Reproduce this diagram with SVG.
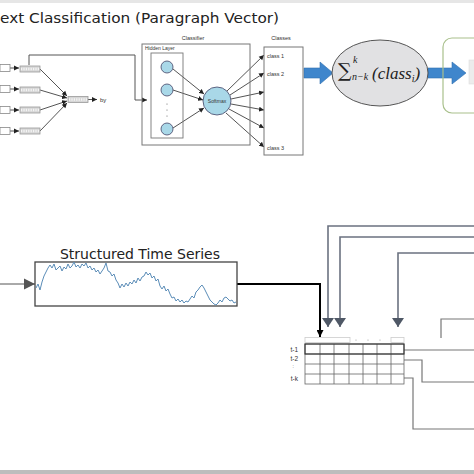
<svg xmlns="http://www.w3.org/2000/svg" width="474" height="474" viewBox="0 0 474 474">
<style>
.t{font-family:"DejaVu Sans","Liberation Sans",sans-serif;fill:#222}
.s{font-family:"Liberation Sans",sans-serif;fill:#333}
.ln{fill:none;stroke:#555;stroke-width:1}
.gl{fill:none;stroke:#6b7280;stroke-width:1.6}
.tl{fill:none;stroke:#777;stroke-width:1.2}
.vec{fill:#d6d6d6;stroke:#999;stroke-width:0.8}
.cell{fill:none;stroke:#f4f4f4;stroke-width:2.5;stroke-dasharray:1.2 1.2}
.in{fill:#fff;stroke:#888;stroke-width:0.8}
.hc{fill:#a9d8e8;stroke:#446;stroke-width:0.8}
.grid{fill:none;stroke:#666;stroke-width:0.8}
</style>
<defs>
<marker id="ah" markerWidth="6" markerHeight="6" refX="5" refY="3" orient="auto" markerUnits="userSpaceOnUse"><path d="M0,0.5 L5,3 L0,5.5z" fill="#222"/></marker>
<marker id="gh" markerWidth="12" markerHeight="10" refX="6" refY="9" orient="0" markerUnits="userSpaceOnUse"><path d="M0,0 L12,0 L6,9z" fill="#4f5866"/></marker>
<marker id="bh" markerWidth="8" markerHeight="8" refX="3.5" refY="7" orient="0" markerUnits="userSpaceOnUse"><path d="M0,0 L7,0 L3.5,7z" fill="#000"/></marker>
<marker id="lh" markerWidth="12" markerHeight="12" refX="11" refY="6" orient="0" markerUnits="userSpaceOnUse"><path d="M0,0.5 L11,6 L0,11.5z" fill="#555"/></marker>
</defs>
<rect width="474" height="474" fill="#fff"/>
<rect x="0" y="0" width="474" height="3" fill="#e6e6e6"/>
<rect x="0" y="470" width="474" height="4" fill="#bdbdbd"/>

<text class="t" x="0" y="23" font-size="14" textLength="279" lengthAdjust="spacingAndGlyphs">ext Classification (Paragraph Vector)</text>

<g id="connectors">
  <path class="ln" d="M10,68 H19" marker-end="url(#ah)"/>
  <path class="ln" d="M10,89 H19" marker-end="url(#ah)"/>
  <path class="ln" d="M10,110 H19" marker-end="url(#ah)"/>
  <path class="ln" d="M10,131 H19" marker-end="url(#ah)"/>
  <path class="ln" d="M40,69 L67,96" marker-end="url(#ah)"/>
  <path class="ln" d="M40,90 L67,98" marker-end="url(#ah)"/>
  <path class="ln" d="M40,110 L67,101" marker-end="url(#ah)"/>
  <path class="ln" d="M40,131 L67,103" marker-end="url(#ah)"/>
  <path class="ln" d="M88,99.5 H97" marker-end="url(#ah)"/>
  <path class="ln" d="M29,65 V55 H135 V100 H147" marker-end="url(#ah)"/>
  <path class="ln" d="M173,69 L204,94" marker-end="url(#ah)"/>
  <path class="ln" d="M173,90 L203,100" marker-end="url(#ah)"/>
  <path class="ln" d="M173,128 L204,108" marker-end="url(#ah)"/>
  <path class="ln" d="M227,91 L264,55" marker-end="url(#ah)"/>
  <path class="ln" d="M230,95 L264,73" marker-end="url(#ah)"/>
  <path class="ln" d="M231,99 L264,92" marker-end="url(#ah)"/>
  <path class="ln" d="M231,104 L264,110" marker-end="url(#ah)"/>
  <path class="ln" d="M229,109 L264,128" marker-end="url(#ah)"/>
  <path class="ln" d="M226,113 L264,147" marker-end="url(#ah)"/>
  <path d="M304,68 H320 V62 L333,73 L320,84 V78 H304z" fill="#3f86cc" stroke="#2f6fae" stroke-width="0.6"/>
  <path d="M428,68 H452 V62 L466,73 L452,84 V78 H428z" fill="#3f86cc" stroke="#2f6fae" stroke-width="0.6"/>
  <path d="M0,284 H35" fill="none" stroke="#555" stroke-width="1" marker-end="url(#lh)"/>
  <path d="M237,284 H320 V337" fill="none" stroke="#000" stroke-width="2" marker-end="url(#bh)"/>
  <path class="gl" d="M474,226 H328 V327" marker-end="url(#gh)"/>
  <path class="gl" d="M474,237 H340 V327" marker-end="url(#gh)"/>
  <path class="gl" d="M474,253 H398 V327" marker-end="url(#gh)"/>
  <path class="tl" d="M474,319 H441 V338"/>
  <path class="tl" d="M404,350 H474"/>
  <path class="tl" d="M404,360 H422 V382 H474"/>
  <path class="tl" d="M404,378 H413 V429 H474"/>
</g>

<g id="inputs">
  <rect class="in" x="0" y="64.5" width="10" height="7"/>
  <rect class="in" x="0" y="85.5" width="10" height="7"/>
  <rect class="in" x="0" y="106.5" width="10" height="7"/>
  <rect class="in" x="0" y="127.5" width="10" height="7"/>
  <rect class="vec" x="20" y="66" width="20" height="6"/><line class="cell" x1="21" y1="69" x2="39" y2="69"/>
  <rect class="vec" x="20" y="87" width="20" height="6"/><line class="cell" x1="21" y1="90" x2="39" y2="90"/>
  <rect class="vec" x="20" y="107" width="20" height="6"/><line class="cell" x1="21" y1="110" x2="39" y2="110"/>
  <rect class="vec" x="20" y="128" width="20" height="6"/><line class="cell" x1="21" y1="131" x2="39" y2="131"/>
</g>
<g id="paragraph-vector">
  <rect class="vec" x="68" y="96.5" width="20" height="6"/><line class="cell" x1="69" y1="99.5" x2="87" y2="99.5"/>
  <text class="s" x="100" y="102" font-size="6">by</text>
</g>

<g id="classifier">
  <rect x="142" y="44" width="108" height="101" fill="none" stroke="#777" stroke-width="1"/>
  <text class="s" x="193" y="40" font-size="5.5" text-anchor="middle">Classifier</text>
  <text class="s" x="145" y="50" font-size="5">Hidden Layer</text>
  <rect x="151" y="53" width="32" height="85" fill="none" stroke="#777" stroke-width="0.9"/>
  <circle class="hc" cx="167" cy="67" r="6"/>
  <circle class="hc" cx="167" cy="90" r="6"/>
  <circle class="hc" cx="167" cy="129" r="6"/>
  <circle cx="167" cy="104" r="0.6" fill="#666"/>
  <circle cx="167" cy="110" r="0.6" fill="#666"/>
  <circle cx="167" cy="116" r="0.6" fill="#666"/>
  <circle class="hc" cx="217" cy="101" r="14"/>
  <text class="s" x="217" y="103" font-size="5" text-anchor="middle">Softmax</text>
</g>

<g id="classes">
  <rect x="264" y="47" width="39" height="108" fill="none" stroke="#777" stroke-width="1"/>
  <text class="s" x="281" y="40" font-size="5.5" text-anchor="middle">Classes</text>
  <text class="s" x="267" y="58" font-size="5.5">class 1</text>
  <text class="s" x="267" y="76" font-size="5.5">class 2</text>
  <text class="s" x="267" y="150" font-size="5.5">class 3</text>
</g>

<g id="sum">
  <ellipse cx="380" cy="73" rx="48" ry="33" fill="#e1e1e3" stroke="#555" stroke-width="1"/>
  <text x="338" y="77" font-family="'DejaVu Serif','Liberation Serif',serif" font-size="19" fill="#222">∑</text>
  <text x="353" y="63" font-family="'Liberation Serif',serif" font-style="italic" font-size="10" fill="#222">k</text>
  <text x="352" y="80" font-family="'Liberation Serif',serif" font-style="italic" font-size="10" fill="#222">n−k</text>
  <text x="372" y="79" font-family="'Liberation Serif',serif" font-style="italic" font-size="17" fill="#222">(class<tspan font-size="10" dy="3">i</tspan><tspan dy="-3">)</tspan></text>
</g>

<g id="output">
  <rect x="443" y="38" width="50" height="75" rx="9" fill="none" stroke="#a9c08c" stroke-width="1.2"/>
  <rect x="469" y="60" width="8" height="24" fill="#ececec" stroke="#ddd" stroke-width="0.6"/>
</g>

<g id="time-series">
  <text class="t" x="60" y="259" font-size="14" textLength="160" lengthAdjust="spacingAndGlyphs">Structured Time Series</text>
  <rect x="35" y="262" width="202" height="44" fill="#fff" stroke="#444" stroke-width="1.3"/>
  <polyline fill="none" stroke="#5b8db8" stroke-width="1" points="36,288 38,284 40,290 42,282 44,276 46,272 48,268 50,265 52,268 54,264 56,270 58,268 60,266 62,271 64,267 66,269 68,264 70,268 72,266 74,262 76,267 78,265 80,268 82,264 84,266 86,263 88,268 90,266 92,270 94,268 96,272 98,270 100,274 102,271 104,268 106,263 108,271 110,272 112,276 114,274 116,280 118,283 120,288 122,284 124,287 126,283 128,286 130,282 132,284 134,280 136,283 138,278 140,281 142,277 144,276 146,272 148,275 150,273 152,278 154,276 156,281 158,279 160,286 162,289 164,286 166,291 168,289 170,294 172,298 174,297 176,301 178,299 180,302 182,300 184,303 186,301 188,302 190,299 192,296 194,298 196,292 198,290 200,287 202,285 204,288 206,292 208,296 210,300 212,302 214,304 216,305 218,303 220,300 222,302 224,298 226,297 228,299 230,301 232,300 234,303 236,302"/>
</g>

<g id="lag-table">
  <rect x="305" y="337.5" width="45" height="5" fill="none" stroke="#ccc" stroke-width="0.8"/>
  <rect x="391" y="337.5" width="13" height="5" fill="none" stroke="#ccc" stroke-width="0.8"/>
  <circle cx="356" cy="340" r="0.6" fill="#999"/>
  <circle cx="368" cy="340" r="0.6" fill="#999"/>
  <circle cx="380" cy="340" r="0.6" fill="#999"/>
  <rect class="grid" x="305" y="344" width="99" height="40"/>
  <path class="grid" d="M305,354 H404 M305,364 H404 M305,374 H404 M320,344 V384 M334,344 V384 M349,344 V384 M363,344 V384 M377,344 V384 M391,344 V384"/>
  <rect x="305" y="344" width="99" height="10" fill="none" stroke="#333" stroke-width="1.1"/>
  <text class="s" x="298" y="352" font-size="6.5" text-anchor="end">t-1</text>
  <text class="s" x="298" y="361" font-size="6.5" text-anchor="end">t-2</text>
  <text class="s" x="294" y="368" font-size="5" text-anchor="end">:</text>
  <text class="s" x="298" y="381" font-size="6.5" text-anchor="end">t-k</text>
</g>
</svg>
